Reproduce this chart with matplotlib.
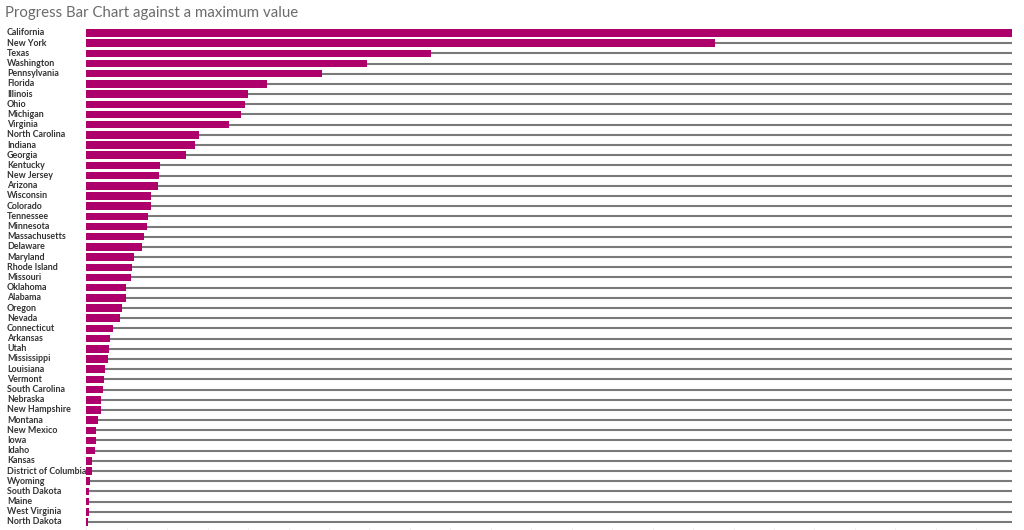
import numpy as np
import matplotlib.pyplot as plt
from matplotlib.transforms import blended_transform_factory

states = ['California', 'New York', 'Texas', 'Washington', 'Pennsylvania', 'Florida',
          'Illinois', 'Ohio', 'Michigan', 'Virginia', 'North Carolina', 'Indiana',
          'Georgia', 'Kentucky', 'New Jersey', 'Arizona', 'Wisconsin', 'Colorado',
          'Tennessee', 'Minnesota', 'Massachusetts', 'Delaware', 'Maryland',
          'Rhode Island', 'Missouri', 'Oklahoma', 'Alabama', 'Oregon', 'Nevada',
          'Connecticut', 'Arkansas', 'Utah', 'Mississippi', 'Louisiana', 'Vermont',
          'South Carolina', 'Nebraska', 'New Hampshire', 'Montana', 'New Mexico',
          'Iowa', 'Idaho', 'Kansas', 'District of Columbia', 'Wyoming', 'South Dakota',
          'Maine', 'West Virginia', 'North Dakota']
sales = [457688, 310876, 170188, 138641, 116512, 89474,
         80166, 78258, 76270, 70637, 55603, 53555,
         49096, 36592, 35764, 35282, 32115, 32108,
         30662, 29863, 28634, 27451, 23706,
         22628, 22205, 19683, 19511, 17431, 16729,
         13384, 11678, 11220, 10771, 9217, 8929,
         8482, 7465, 7293, 5589, 4784,
         4580, 4382, 2914, 2865, 1604, 1316,
         1271, 1210, 920]
max_value = max(sales)

bar_color = '#ae006a'
track_color = '#7a7a7a'

fig = plt.figure(figsize=(10.24, 5.3), dpi=100)
ax = fig.add_axes([86.3 / 1024, 0.0055, (1012 - 86.3) / 1024, 0.9419])

y = np.arange(len(states))
# track line for the maximum, then the bar on top
ax.hlines(y, 0, max_value, color=track_color, lw=1.5, zorder=1)
ax.barh(y, sales, height=0.74, color=bar_color, zorder=2)

ax.set_xlim(0, max_value)
ax.set_ylim(len(states) - 0.5, -0.5)
ax.set_yticks([])
ax.set_xticks(np.arange(0, max_value, 20000))
ax.tick_params(axis='x', length=3, color='#f0f0f0', labelbottom=False)
for s in ax.spines.values():
    s.set_visible(False)

trans = blended_transform_factory(fig.transFigure, ax.transData)
for yi, name in zip(y, states):
    ax.text(7 / 1024, yi, name, transform=trans, ha='left', va='center',
            fontsize=6.4, fontfamily='Lato', fontweight='bold', color='#333333')

fig.text(5 / 1024, 1 - 13 / 530, 'Progress Bar Chart against a maximum value',
         ha='left', va='center', fontsize=10.8, fontfamily='Lato', color='#6b6b6b')

fig.savefig('out.png', dpi=100)
